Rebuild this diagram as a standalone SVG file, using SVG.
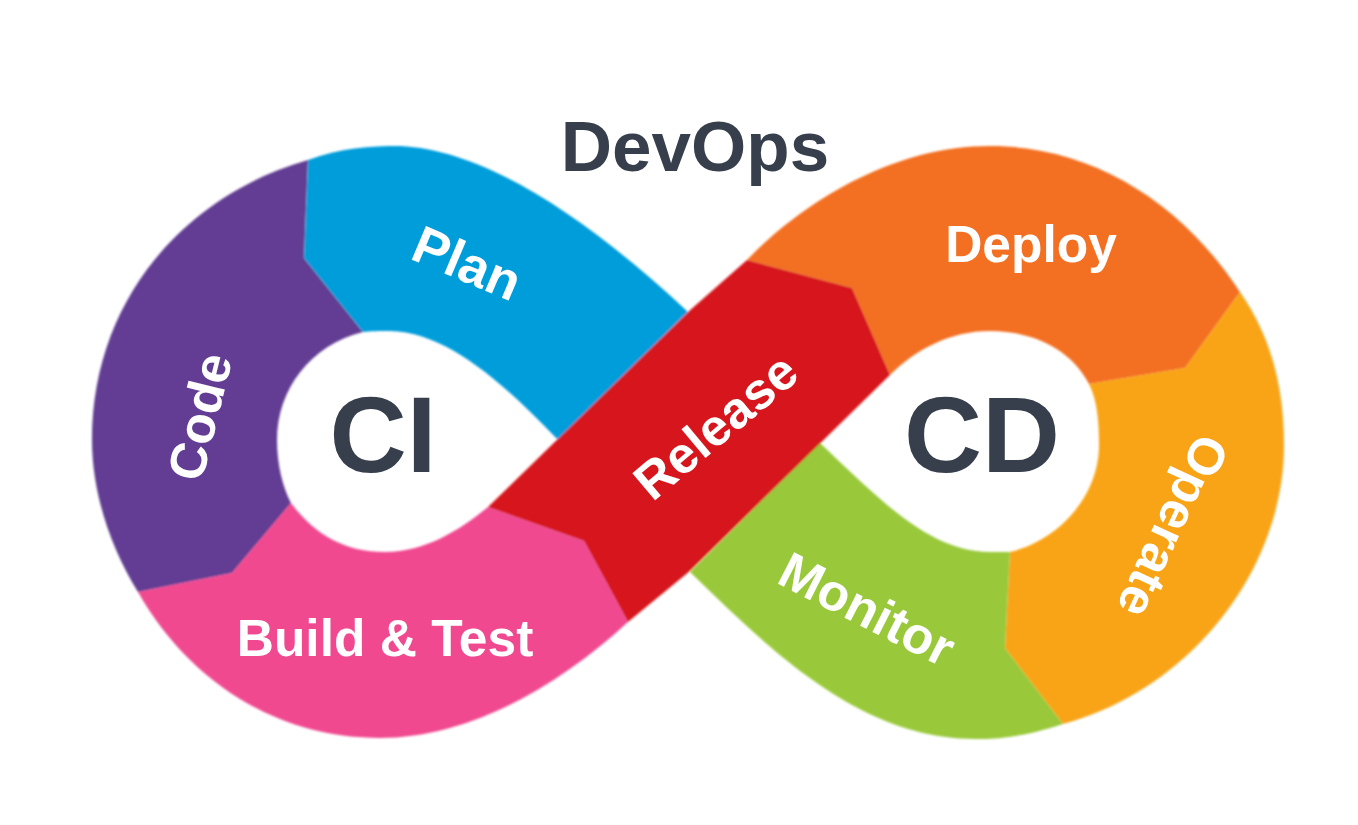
<svg xmlns="http://www.w3.org/2000/svg" width="1358" height="825" viewBox="0 0 1358 825">
<defs><filter id="soft" x="-5%" y="-5%" width="110%" height="110%"><feGaussianBlur stdDeviation="1.2"/></filter></defs>
<style>
text{font-family:"Liberation Sans",Arial,sans-serif;font-weight:700;text-anchor:middle}
.w{fill:#fff;font-size:51.5px}
.d{fill:#373f4c}
</style>
<rect width="1358" height="825" fill="#fff"/>
<g id="band" filter="url(#soft)">
<path id="code" fill="#623c93" d="M308 160C185 195 92 300 92 440C92 495 112 550 138 592L232 573L291 503C283 488 277 465 277 440C277 390 310 345 363 332L304 258Z"/>
<path id="plan" fill="#059ddb" d="M308 160C340 148 370 146 400 146C490 150 595 225 688 312L558 440C510 390 450 332 390 331C380 331 370 331 363 332L304 258Z"/>
<path id="deploy" fill="#f36f21" d="M747 260C800 205 890 146 990 146C1090 146 1180 200 1240 292L1185 368L1089 384C1070 347 1030 331 990 331C950 331 915 350 890 375L852 288Z"/>
<path id="operate" fill="#f9a419" d="M1240 292C1270 335 1284 385 1284 445C1284 570 1190 690 1063 724L1005 648L1010 552C1060 540 1099 495 1099 445C1099 420 1097 400 1089 384L1185 368Z"/>
<path id="monitor" fill="#99c93a" d="M820 443C880 500 930 552 990 552C997 552 1004 552 1010 552L1005 648L1063 724C1030 735 1005 739 975 739C860 739 770 650 690 572Z"/>
<path id="build" fill="#f04a90" d="M138 592L232 573L291 503C315 535 345 552 385 552C425 552 460 530 488 507L584 541L628 622C560 685 470 738 380 738C270 738 185 675 138 592Z"/>
<path id="release" fill="#d6181f" d="M747 260L852 288L890 375L690 571L628 622L584 541L488 507L688 312Z"/>
</g>
<g id="labels">
<text class="d" x="695" y="171" font-size="71">DevOps</text>
<text class="d" x="383" y="472" font-size="107">CI</text>
<text class="d" x="982" y="472" font-size="108">CD</text>
<text class="w" transform="translate(1031 262)">Deploy</text>
<text class="w" transform="translate(385 656)">Build &amp; Test</text>
<text class="w" style="font-size:53px" transform="translate(460 280) rotate(23)">Plan</text>
<text class="w" transform="translate(217 421) rotate(-76)">Code</text>
<text class="w" transform="translate(727 440) rotate(-40)">Release</text>
<text class="w" transform="translate(1157 519) rotate(115)">Operate</text>
<text class="w" transform="translate(859 625) rotate(27)">Monitor</text>
</g>
</svg>
